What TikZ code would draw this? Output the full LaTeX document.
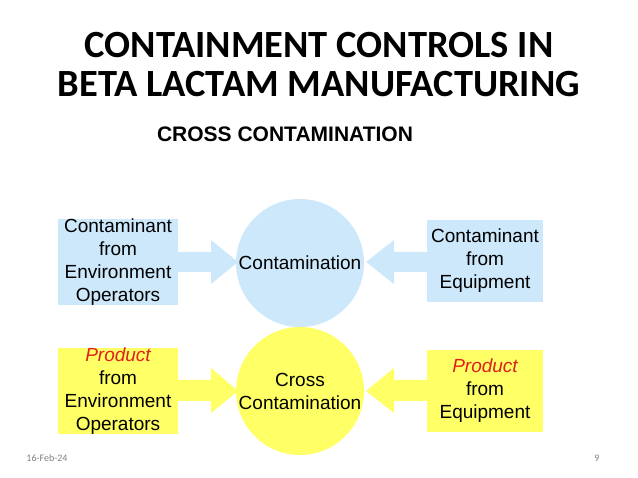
\documentclass[tikz,border=0pt]{standalone}
\usepackage{fontspec}
\setmainfont{Liberation Sans}
\newfontfamily\calib{Carlito}
\definecolor{lb}{HTML}{CCE8FA}
\definecolor{yl}{HTML}{FFFF66}
\definecolor{pr}{HTML}{E0201B}
\begin{document}
\begin{tikzpicture}[x=1pt,y=-1pt,
  box/.style={inner sep=0pt,minimum width=120pt,minimum height=86pt,align=center,font=\fontsize{19}{23}\selectfont},
  circ/.style={circle,minimum size=128pt,inner sep=0pt,align=center,font=\fontsize{19}{23}\selectfont}]
\useasboundingbox (0,0) rectangle (638,478);
\node[font=\calib\bfseries\fontsize{38.5}{39}\selectfont,inner sep=0pt] (t1) at (319,45) {CONTAINMENT CONTROLS IN};
\node[font=\calib\bfseries\fontsize{38.5}{39}\selectfont,inner sep=0pt] (t2) at (319,84) {BETA LACTAM MANUFACTURING};
\node[font=\bfseries\fontsize{21}{24}\selectfont] (st) at (285,134) {CROSS CONTAMINATION};
% top row
\node[box,fill=lb] (lb1) at (118,262) {Contaminant\\from\\Environment\\Operators};
\node[circ,fill=lb] (c1) at (300,263) {Contamination};
\node[box,fill=lb,minimum width=116pt,minimum height=82pt] (rb1) at (485,261) {Contaminant\\from\\Equipment};
\fill[lb] (178,252) -- (211,252) -- (211,240) -- (238,262) -- (211,284) -- (211,272) -- (178,272) -- cycle;
\fill[lb] (427,252) -- (394,252) -- (394,240) -- (366,262) -- (394,284) -- (394,272) -- (427,272) -- cycle;
% bottom row
\node[box,fill=yl] (lb2) at (118,391) {\textcolor{pr}{\itshape Product}\\from\\Environment\\Operators};
\node[circ,fill=yl] (c2) at (300,391) {Cross\\Contamination};
\node[box,fill=yl,minimum width=116pt,minimum height=82pt] (rb2) at (485,391) {\textcolor{pr}{\itshape Product}\\from\\Equipment};
\fill[yl] (178,380) -- (211,380) -- (211,368) -- (238,391) -- (211,413) -- (211,401) -- (178,401) -- cycle;
\fill[yl] (427,380) -- (394,380) -- (394,368) -- (366,391) -- (394,413) -- (394,401) -- (427,401) -- cycle;
\node[font=\calib\fontsize{10}{11}\selectfont,text=gray] (d) at (47,458) {16-Feb-24};
\node[font=\calib\fontsize{10}{11}\selectfont,text=gray] (p) at (597,458) {9};
\end{tikzpicture}
\end{document}
